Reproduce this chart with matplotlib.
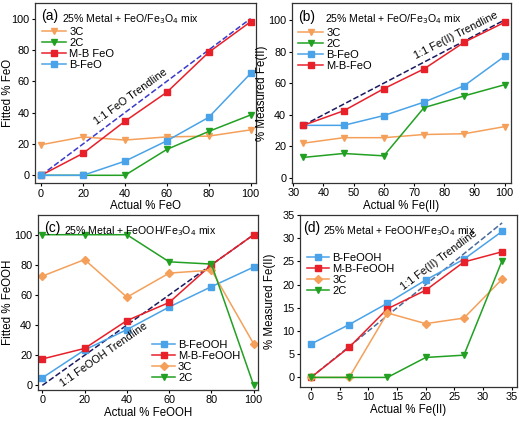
import matplotlib
matplotlib.use('Agg')
import matplotlib.pyplot as plt

plt.rcParams.update({
    'font.family': ['Liberation Sans', 'DejaVu Sans'],
    'font.size': 8,
    'axes.linewidth': 0.9,
    'xtick.direction': 'out',
    'ytick.direction': 'out',
    'xtick.major.size': 2.5,
    'ytick.major.size': 2.5,
})

ORANGE = '#f5a05a'
GREEN = '#22a022'
RED = '#e8202a'
BLUE = '#4aa3e8'

# (a) FeO mix, fitted % FeO
xa = [0, 20, 40, 60, 80, 100]
a_3c = [19.5, 24.5, 22.5, 24.5, 25, 29]
a_2c = [0, 0, 0, 16.5, 28, 38.5]
a_mb = [0, 14, 34.5, 53, 78.5, 98]
a_b = [0, 0, 9, 22, 37, 65]

# (b) FeO mix, measured Fe(II)
xb = [33.3, 46.7, 60, 73.3, 86.7, 100]
b_3c = [22, 25.5, 25.5, 27.5, 28, 32.5]
b_2c = [13, 15.5, 14, 44.5, 52, 59]
b_b = [33.3, 33.3, 39.5, 48, 58.5, 77]
b_mb = [33.3, 42.5, 56.5, 69, 86, 98.5]

# (c) FeOOH mix, fitted % FeOOH
xc = [0, 20, 40, 60, 80, 100]
c_b = [5, 23.5, 37, 52, 65.5, 78.5]
c_mb = [17.5, 24.5, 43, 55, 80, 100]
c_3c = [72.5, 83.5, 58.5, 74.5, 76.5, 27.5]
c_2c = [100, 100, 100, 82, 80.5, 0]

# (d) FeOOH mix, measured Fe(II)
xd = [0, 6.67, 13.33, 20, 26.67, 33.33]
d_b = [7.2, 11.4, 16, 21, 25.5, 31.5]
d_mb = [0, 6.5, 14.8, 18.8, 24.9, 27.1]
d_3c = [0, 0, 13.9, 11.6, 12.8, 21.2]
d_2c = [0, 0, 0, 4.3, 4.8, 25.2]

fig = plt.figure(figsize=(5.2, 4.21), dpi=100)
axa = fig.add_axes([0.067, 0.565, 0.425, 0.428])
axb = fig.add_axes([0.561, 0.566, 0.421, 0.426])
axc = fig.add_axes([0.0725, 0.074, 0.4235, 0.415])
axd = fig.add_axes([0.577, 0.0815, 0.417, 0.4075])

lw = 1.1
ms = 4
TICK_FS = 7.8
LAB_FS = 8.3
LEG_FS = 8
TREND_FS = 7.8
TITLE_FS = 7.6


def style(ax, ylab_x):
    ax.tick_params(labelsize=TICK_FS, pad=1.5)
    ax.yaxis.set_label_coords(ylab_x, 0.5)
    for s in ax.spines.values():
        s.set_color('#333333')


def panel_title(ax, letter, text, xoff, lx=0.03):
    ax.text(lx, 0.965, letter, transform=ax.transAxes, fontsize=10,
            ha='left', va='top')
    ax.text(xoff, 0.95, text, transform=ax.transAxes, fontsize=TITLE_FS,
            ha='left', va='top')


def legend(ax, **kw):
    ax.legend(frameon=False, fontsize=LEG_FS, labelspacing=0.1,
              handletextpad=0.3, borderaxespad=0.2, **kw)


# (a)
axa.plot([0, 100], [0, 100], ls='--', color='#3a3acc', lw=1.1, zorder=2)
axa.plot(xa, a_3c, color=ORANGE, marker='v', ms=ms, lw=lw, label='3C')
axa.plot(xa, a_2c, color=GREEN, marker='v', ms=ms, lw=lw, label='2C')
axa.plot(xa, a_mb, color=RED, marker='s', ms=ms, lw=lw, label='M-B FeO')
axa.plot(xa, a_b, color=BLUE, marker='s', ms=ms, lw=lw, label='B-FeO')
axa.text(43, 50, '1:1 FeO Trendline', rotation=36, fontsize=TREND_FS,
         ha='center', va='center')
axa.set_xlim(-3, 102.5)
axa.set_ylim(-5, 110)
axa.set_xticks([0, 20, 40, 60, 80, 100])
axa.set_yticks([0, 20, 40, 60, 80, 100])
axa.set_xlabel('Actual % FeO', fontsize=LAB_FS, labelpad=1)
axa.set_ylabel('Fitted % FeO', fontsize=LAB_FS)
panel_title(axa, '(a)', '25% Metal + FeO/Fe$_3$O$_4$ mix', 0.122)
legend(axa, loc='upper left', bbox_to_anchor=(0.0, 0.905), handlelength=2.2)
style(axa, -0.095)

# (b)
axb.plot([33.3, 100], [33.3, 100], ls='--', color='#1a1a60', lw=1.1, zorder=2)
axb.plot(xb, b_3c, color=ORANGE, marker='v', ms=ms, lw=lw, label='3C')
axb.plot(xb, b_2c, color=GREEN, marker='v', ms=ms, lw=lw, label='2C')
axb.plot(xb, b_b, color=BLUE, marker='s', ms=ms, lw=lw, label='B-FeO')
axb.plot(xb, b_mb, color=RED, marker='s', ms=ms, lw=lw, label='M-B-FeO')
axb.text(84, 90, '1:1 Fe(II) Trendline', rotation=27, fontsize=TREND_FS,
         ha='center', va='center')
axb.set_xlim(29.5, 102)
axb.set_ylim(-3, 110.5)
axb.set_xticks([30, 40, 50, 60, 70, 80, 90, 100])
axb.set_yticks([0, 20, 40, 60, 80, 100])
axb.set_xlabel('Actual % Fe(II)', fontsize=LAB_FS, labelpad=1)
axb.set_ylabel('% Measured Fe(II)', fontsize=LAB_FS)
panel_title(axb, '(b)', '25% Metal + FeO/Fe$_3$O$_4$ mix', 0.152)
legend(axb, loc='upper left', bbox_to_anchor=(0.0, 0.9), handlelength=2.2)
style(axb, -0.108)

# (c)
axc.plot([0, 100], [0, 100], ls='--', color='#1a1a60', lw=1.1, zorder=2)
axc.plot(xc, c_b, color=BLUE, marker='s', ms=ms, lw=lw, label='B-FeOOH')
axc.plot(xc, c_mb, color=RED, marker='s', ms=ms, lw=lw, label='M-B-FeOOH')
axc.plot(xc, c_3c, color=ORANGE, marker='D', ms=ms, lw=lw, label='3C')
axc.plot(xc, c_2c, color=GREEN, marker='v', ms=ms, lw=lw, label='2C')
axc.text(29, 20, '1:1 FeOOH Trendline', rotation=35, fontsize=TREND_FS,
         ha='center', va='center')
axc.set_xlim(-2.2, 102)
axc.set_ylim(-3, 113)
axc.set_xticks([0, 20, 40, 60, 80, 100])
axc.set_yticks([0, 20, 40, 60, 80, 100])
axc.set_xlabel('Actual % FeOOH', fontsize=LAB_FS, labelpad=1)
axc.set_ylabel('Fitted % FeOOH', fontsize=LAB_FS)
panel_title(axc, '(c)', '25% Metal + FeOOH/Fe$_3$O$_4$ mix', 0.118)
legend(axc, loc='lower right', bbox_to_anchor=(0.95, 0.0), handlelength=2.0)
style(axc, -0.108)

# (d)
axd.plot([0, 33.33], [0, 33.33], ls='--', color='#4a6a9a', lw=1.1, zorder=2)
axd.plot(xd, d_b, color=BLUE, marker='s', ms=ms, lw=lw, label='B-FeOOH')
axd.plot(xd, d_mb, color=RED, marker='s', ms=ms, lw=lw, label='M-B-FeOOH')
axd.plot(xd, d_3c, color=ORANGE, marker='D', ms=ms, lw=lw, label='3C')
axd.plot(xd, d_2c, color=GREEN, marker='v', ms=ms, lw=lw, label='2C')
axd.text(22.3, 25.2, '1:1 Fe(II) Trendline', rotation=37, fontsize=TREND_FS,
         ha='center', va='center')
axd.set_xlim(-1.9, 35.9)
axd.set_ylim(-2, 35)
axd.set_xticks([0, 5, 10, 15, 20, 25, 30, 35])
axd.set_yticks([0, 5, 10, 15, 20, 25, 30, 35])
axd.set_xlabel('Actual % Fe(II)', fontsize=LAB_FS, labelpad=1)
axd.set_ylabel('% Measured Fe(II)', fontsize=LAB_FS)
panel_title(axd, '(d)', '25% Metal + FeOOH/Fe$_3$O$_4$ mix', 0.108, lx=0.015)
legend(axd, loc='upper left', bbox_to_anchor=(0.0, 0.82), handlelength=2.0)
style(axd, -0.11)

fig.savefig('out.png', dpi=100)
